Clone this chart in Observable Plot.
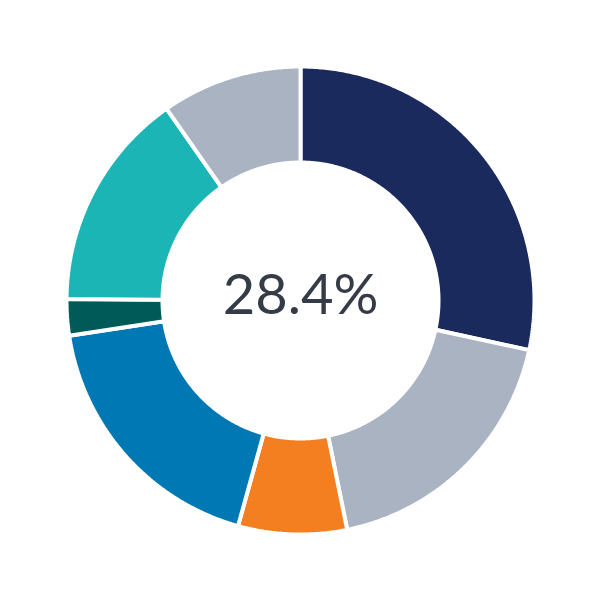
<!DOCTYPE html>
<html>
<head>
<meta charset="utf-8">
<script src="https://cdn.jsdelivr.net/npm/d3@7"></script>
<script src="https://cdn.jsdelivr.net/npm/@observablehq/plot@0.6"></script>
<style>
  html, body { margin: 0; padding: 0; background: #fff; }
  #chart { width: 600px; height: 600px; }
</style>
</head>
<body>
<div id="chart"></div>
<script>
// Data (clockwise from 12 o'clock)
const categories = ["A", "B", "C", "D", "E", "F", "G"];
const shares = [28.4, 18.4, 7.5, 18.3, 2.5, 15.2, 9.7];
const colors = ["#1b2a5c", "#a9b3c1", "#f37f20", "#0078b4", "#005a58", "#1cb5b5", "#a9b3c1"];
const centerLabel = "28.4%";

// geometry (pixel units, the x/y scales map 1 unit = 1 px)
const R_OUT = 234, R_IN = 138, GAP = 4;

const total = d3.sum(shares);
let cum = 0;
const slices = categories.map((c, i) => {
  const a0 = cum / total * 2 * Math.PI;
  cum += shares[i];
  const a1 = cum / total * 2 * Math.PI;
  const pts = [];
  const n = Math.max(2, Math.ceil((a1 - a0) / (Math.PI / 360)));
  for (let k = 0; k <= n; k++) {
    const a = a0 + (a1 - a0) * k / n;
    pts.push({x: R_OUT * Math.sin(a), y: R_OUT * Math.cos(a)});
  }
  for (let k = n; k >= 0; k--) {
    const a = a0 + (a1 - a0) * k / n;
    pts.push({x: R_IN * Math.sin(a), y: R_IN * Math.cos(a)});
  }
  return {category: c, color: colors[i], pts};
});

const chart = Plot.plot({
  width: 600,
  height: 600,
  margin: 0,
  x: {domain: [-300, 300], axis: null},
  y: {domain: [-300, 300], axis: null},
  marks: [
    ...slices.map(s => Plot.line(s.pts, {
      x: "x", y: "y",
      curve: "linear-closed",
      fill: s.color,
      stroke: "#ffffff",
      strokeWidth: GAP,
      strokeLinejoin: "miter"
    })),
    Plot.text([centerLabel], {
      frameAnchor: "middle",
      text: d => d,
      fontSize: 56,
      fontFamily: "Lato, 'Open Sans', sans-serif",
      fontWeight: 400,
      fill: "#353c47",
      dy: -4
    })
  ]
});
document.getElementById("chart").appendChild(chart);
</script>
</body>
</html>
